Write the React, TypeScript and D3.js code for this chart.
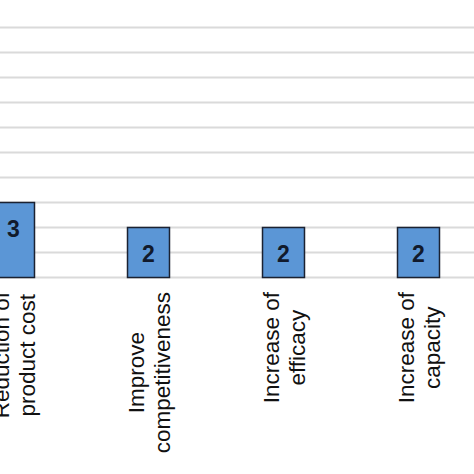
import React, { useEffect, useRef } from 'react';
import * as d3 from 'd3';

// visible part of the chart (cropped on the left)
const categories: string[][] = [
  ['Reduction of', 'product cost'],
  ['Improve', 'competitiveness'],
  ['Increase of', 'efficacy'],
  ['Increase of', 'capacity'],
];
const values: number[] = [3, 2, 2, 2];
const gridTicks: number[] = [0, 1, 2, 3, 4, 5, 6, 7, 8, 9, 10];

const W = 474;
const H = 474;

const App: React.FC = () => {
  const svgRef = useRef<SVGSVGElement>(null);

  useEffect(() => {
    if (!svgRef.current) return;
    document.body.style.margin = '0';
    const svg = d3.select(svgRef.current);
    svg.selectAll('*').remove();

    const keys = categories.map(c => c.join(' '));
    const x = d3.scaleBand<string>()
      .domain(keys)
      .range([-54, 486])
      .paddingInner(0.689)
      .paddingOuter(0.3445);
    const y = d3.scaleLinear().domain([0, 10]).range([277.5, 27.5]);

    svg.append('rect').attr('width', W).attr('height', H).attr('fill', '#fff');

    // gridlines
    svg.append('g')
      .selectAll('line')
      .data(gridTicks)
      .enter().append('line')
      .attr('x1', 0)
      .attr('x2', W)
      .attr('y1', d => y(d))
      .attr('y2', d => y(d))
      .attr('stroke', '#dadada')
      .attr('stroke-width', 2);

    // bars
    const bar = svg.append('g')
      .selectAll('g')
      .data(values)
      .enter().append('g');

    bar.append('rect')
      .attr('x', (_d, i) => x(keys[i])!)
      .attr('y', d => y(d))
      .attr('width', x.bandwidth())
      .attr('height', d => y(0) - y(d))
      .attr('fill', '#5b96d6')
      .attr('stroke', '#1b2232')
      .attr('stroke-width', 1.5);

    bar.append('text')
      .attr('x', (_d, i) => x(keys[i])! + x.bandwidth() / 2)
      .attr('y', d => y(d) + 26)
      .attr('dy', '0.36em')
      .attr('text-anchor', 'middle')
      .style('font-family', '"Liberation Sans", Arial, sans-serif')
      .style('font-weight', 'bold')
      .style('font-size', '23px')
      .attr('fill', '#111a2c')
      .text(d => d);

    // rotated category labels, block anchored just below the axis
    const labels = svg.append('g');
    categories.forEach((lines, i) => {
      const cx = x(keys[i])! + x.bandwidth() / 2;
      const g = labels.append('g');
      const texts = lines.map((line, j) =>
        g.append('text')
          .attr('text-anchor', 'middle')
          .style('font-family', '"Liberation Sans", Arial, sans-serif')
          .style('font-size', '22.5px')
          .attr('fill', '#111')
          .text(line)
          .attr('data-x', cx + (j - 0.5) * 26 + 8)
      );
      const maxLen = d3.max(texts, t => (t.node() as SVGTextElement).getComputedTextLength()) || 0;
      const cy = 292 + maxLen / 2;
      texts.forEach(t => {
        t.attr('transform', `translate(${t.attr('data-x')},${cy}) rotate(-90)`);
      });
    });
  }, []);

  return <svg ref={svgRef} width={W} height={H} style={{ display: 'block' }}></svg>;
};

export default App;
